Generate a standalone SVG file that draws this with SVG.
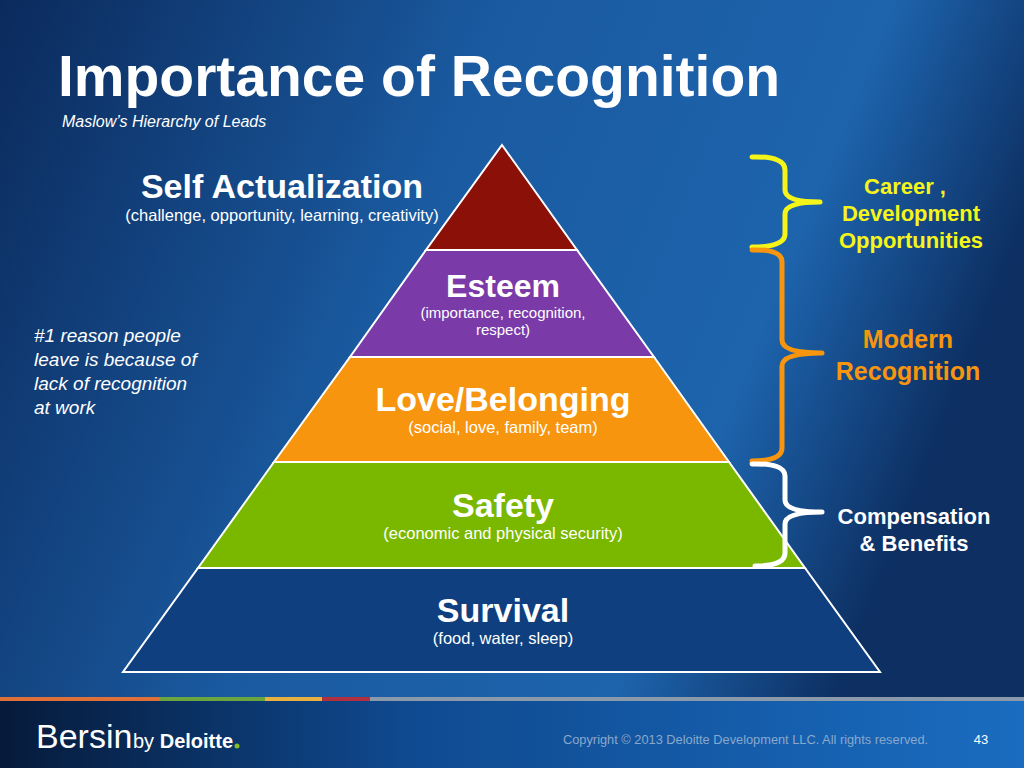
<svg xmlns="http://www.w3.org/2000/svg" width="1024" height="768" viewBox="0 0 1024 768">
<defs>
<linearGradient id="bg" x1="0" y1="0" x2="1" y2="0.3">
<stop offset="0" stop-color="#0b2a5c"/><stop offset="0.45" stop-color="#1a5aa0"/><stop offset="0.8" stop-color="#1d64ad"/><stop offset="1" stop-color="#0d2f62"/>
</linearGradient>
<linearGradient id="ft" x1="0" y1="0" x2="1" y2="0">
<stop offset="0" stop-color="#061a3a"/><stop offset="0.4" stop-color="#0f4a90"/><stop offset="1" stop-color="#1a6cc0"/>
</linearGradient>
<style>
.t{font-family:"Liberation Sans",Arial,sans-serif;fill:#fff}
.h{font-weight:bold;font-size:34px;text-anchor:middle}
.s{font-size:16.5px;text-anchor:middle}
.tier{stroke:#fff;stroke-width:2}
.br{fill:none;stroke-width:5;stroke-linecap:round;stroke-linejoin:round}
.lab{font-family:"Liberation Sans",Arial,sans-serif;font-weight:bold;text-anchor:middle}
</style>
</defs>
<rect width="1024" height="768" fill="url(#bg)"/>
<rect y="700" width="1024" height="68" fill="url(#ft)"/>
<rect x="0" y="697" width="160" height="4" fill="#e0703a"/>
<rect x="160" y="697" width="105" height="4" fill="#6aa540"/>
<rect x="265" y="697" width="57" height="4" fill="#e8b040"/>
<rect x="322" y="697" width="48" height="4" fill="#b03040"/>
<rect x="370" y="697" width="654" height="4" fill="#8a9aaa"/>
<text class="t" x="58" y="96" font-size="57" font-weight="bold">Importance of Recognition</text>
<text class="t" x="62" y="127" font-size="16" font-style="italic">Maslow’s Hierarchy of Leads</text>
<g id="tier-self"><polygon class="tier" points="502,145 577,250 426,250" fill="#8b1008"/></g>
<g id="tier-esteem"><polygon class="tier" points="426,250 577,250 654,357 350,357" fill="#7a3aa8"/>
<text class="t h" x="503" y="297" style="font-size:32px">Esteem</text>
<text class="t s" x="503" y="318" style="font-size:15px">(importance, recognition,</text>
<text class="t s" x="503" y="335" style="font-size:15px">respect)</text></g>
<g id="tier-love"><polygon class="tier" points="350,357 654,357 729,462 274,462" fill="#f7950f"/>
<text class="t h" x="503" y="411">Love/Belonging</text>
<text class="t s" x="503" y="433">(social, love, family, team)</text></g>
<g id="tier-safety"><polygon class="tier" points="274,462 729,462 805,568 198,568" fill="#7ab800"/>
<text class="t h" x="503" y="517">Safety</text>
<text class="t s" x="503" y="539">(economic and physical security)</text></g>
<g id="tier-survival"><polygon class="tier" points="198,568 805,568 880,672 123,672" fill="#0f3f7e"/>
<text class="t h" x="503" y="622">Survival</text>
<text class="t s" x="503" y="644">(food, water, sleep)</text></g>
<g id="self-label">
<text class="t h" x="282" y="198">Self Actualization</text>
<text class="t s" x="282" y="221">(challenge, opportunity, learning, creativity)</text></g>
<g id="note"><text class="t" font-size="19" font-style="italic">
<tspan x="34" y="342">#1 reason people</tspan><tspan x="34" y="366">leave is because of</tspan><tspan x="34" y="390">lack of recognition</tspan><tspan x="34" y="414">at work</tspan></text></g>
<g id="connectors">
<path class="br" stroke="#f5f51a" d="M752,157 Q785,156 785,170 L785,190 Q785,202 820,202 Q785,202 785,214 L785,234 Q785,247 752,247"/>
<path class="br" stroke="#f7950f" d="M752,250 Q782,249 782,262 L782,340 Q782,353 822,353 Q782,353 782,366 L782,448 Q782,461 752,461"/>
<path class="br" stroke="#fff" d="M752,464 Q785,463 785,476 L785,500 Q785,512 822,512 Q785,512 785,524 L785,553 Q785,566 755,566"/>
</g>
<g id="labels">
<text class="lab" fill="#f5f51a" font-size="22"><tspan x="905" y="194">Career ,</tspan><tspan x="911" y="221">Development</tspan><tspan x="911" y="248">Opportunities</tspan></text>
<text class="lab" fill="#f7950f" font-size="25"><tspan x="908" y="348">Modern</tspan><tspan x="908" y="380">Recognition</tspan></text>
<text class="lab" fill="#fff" font-size="22"><tspan x="914" y="524">Compensation</tspan><tspan x="914" y="551">&amp; Benefits</tspan></text>
</g>
<text class="t" x="36" y="748" font-size="34" font-family="Liberation Sans Narrow,Liberation Sans,sans-serif">Bersin</text>
<text class="t" x="133" y="748" font-size="20">by <tspan font-weight="bold">Deloitte</tspan></text>
<circle cx="237" cy="746" r="2.5" fill="#86bc25"/>
<text class="t" x="563" y="744" font-size="12.8" style="fill:#8aa8cc">Copyright © 2013 Deloitte Development LLC. All rights reserved.</text>
<text class="t" x="981" y="744" font-size="13" text-anchor="middle">43</text>
</svg>
